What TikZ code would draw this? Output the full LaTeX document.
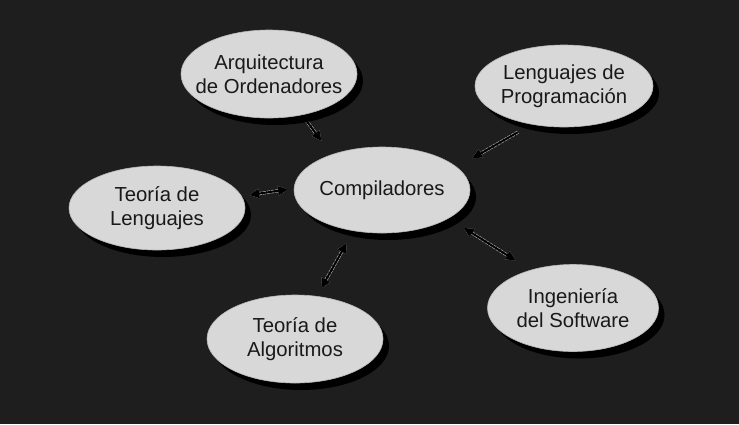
\documentclass[tikz,border=0pt]{standalone}
\usepackage{fontspec}
\setmainfont{Liberation Sans}
\usetikzlibrary{shapes.geometric,shadows,arrows.meta,backgrounds}
\definecolor{bg}{RGB}{30,30,30}
\definecolor{ellfill}{RGB}{216,216,216}
\definecolor{txt}{RGB}{25,25,25}
\tikzset{
  topic/.style={ellipse, fill=ellfill, draw=gray!55, line width=0.6pt,
    inner sep=-20pt, outer sep=0pt, align=center, text=txt,
    font=\fontsize{20.3}{24}\selectfont,
    drop shadow={shadow xshift=6pt, shadow yshift=-7pt, opacity=1, fill=black}},
  linkbase/.style={line width=2pt, draw=black,
    preaction={draw=gray!60, line width=3.2pt, densely dotted}},
  link/.style={linkbase,
    {Triangle[length=10pt,width=9pt]}-{Triangle[length=10pt,width=9pt]}},
  linkone/.style={linkbase, -{Triangle[length=10pt,width=9pt]}}
}
\begin{document}
\begin{tikzpicture}[x=1pt,y=-1pt]
\useasboundingbox (0,0) rectangle (739,424);
\node[topic, minimum width=176pt, minimum height=88pt] (arq) at (269,74) {Arquitectura\\de Ordenadores};
\node[topic, minimum width=176pt, minimum height=86pt] (comp) at (382,190) {Compiladores};
\node[topic, minimum width=178pt, minimum height=82pt] (lp) at (564,86) {Lenguajes de\\Programación};
\node[topic, minimum width=176pt, minimum height=84pt] (tl) at (157,208) {Teoría de\\Lenguajes};
\node[topic, minimum width=176pt, minimum height=88pt] (ta) at (295,339) {Teoría de\\Algoritmos};
\node[topic, minimum width=171pt, minimum height=87pt] (is) at (573,308) {Ingeniería\\del Software};
\begin{scope}[on background layer]
\fill[bg] (0,0) rectangle (739,424);
\draw[linkone, shorten <=-2pt, shorten >=17pt] (arq.-51) -- (comp.145);
\draw[linkone, shorten <=16pt, shorten >=18pt] (lp.230) -- (comp.17);
\draw[link, shorten <=8pt, shorten >=6pt] (tl.8) -- (comp.179);
\draw[link, shorten <=9pt, shorten >=14pt] (ta.63) -- (comp.-125);
\draw[link, shorten <=18pt, shorten >=18pt] (comp.-23) -- (is.138);
\end{scope}
\end{tikzpicture}
\end{document}
